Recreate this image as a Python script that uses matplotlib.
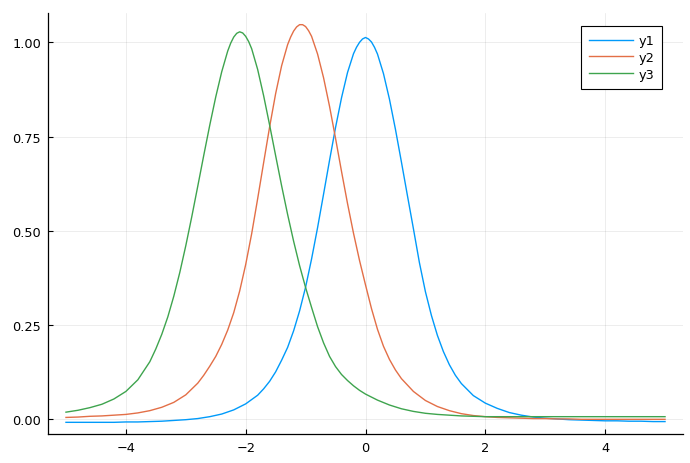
import matplotlib
matplotlib.use("Agg")
import matplotlib.pyplot as plt

# ---------------- data ----------------
x1 = [-5.0, -4.8, -4.6, -4.4, -4.2, -4.0, -3.8, -3.6, -3.4, -3.2, -3.0, -2.8, -2.6, -2.4, -2.2, -2.0, -1.8,
      -1.7, -1.6, -1.5, -1.4, -1.3, -1.2, -1.1, -1.0, -0.9, -0.8, -0.7, -0.6, -0.5, -0.4, -0.3, -0.2,
      -0.15, -0.1, -0.05, 0.0, 0.05, 0.1, 0.15,
      0.2, 0.3, 0.4, 0.5, 0.6, 0.7, 0.8, 0.9, 1.0, 1.1, 1.2, 1.3, 1.4, 1.5, 1.6,
      1.8, 2.0, 2.2, 2.4, 2.6, 2.8, 3.0, 3.2, 3.4, 3.6, 3.8, 4.0, 4.2, 4.4, 4.6, 4.8, 5.0]
y1 = [-0.009, -0.009, -0.009, -0.009, -0.009, -0.008, -0.008, -0.007, -0.006, -0.004, -0.002, 0.001, 0.006, 0.013, 0.024, 0.040, 0.063,
      0.080, 0.100, 0.125, 0.156, 0.190, 0.234, 0.287, 0.350, 0.425, 0.508, 0.597, 0.687, 0.774, 0.853, 0.920, 0.970,
      0.987, 1.000, 1.009, 1.013, 1.009, 1.001, 0.987,
      0.969, 0.917, 0.849, 0.769, 0.682, 0.593, 0.505, 0.415, 0.338, 0.275, 0.222, 0.179, 0.144, 0.116, 0.094,
      0.062, 0.042, 0.028, 0.017, 0.010, 0.005, 0.002, 0.000, -0.002, -0.003, -0.004, -0.005, -0.005, -0.006, -0.006, -0.007, -0.007]

x2 = [-5.0, -4.8, -4.6, -4.4, -4.2, -4.0, -3.8, -3.6, -3.4, -3.2, -3.0, -2.8,
      -2.7, -2.6, -2.5, -2.4, -2.3, -2.2, -2.1, -2.0, -1.9, -1.8, -1.7, -1.6, -1.5, -1.4, -1.3,
      -1.25, -1.2, -1.15, -1.1, -1.05, -1.0, -0.95,
      -0.9, -0.8, -0.7, -0.6, -0.5, -0.4, -0.3, -0.2, -0.1, 0.0, 0.1, 0.2, 0.3, 0.4, 0.5, 0.6,
      0.8, 1.0, 1.2, 1.4, 1.6, 1.8, 2.0, 2.2, 2.4, 2.6, 2.8, 3.0, 3.2, 3.4, 3.6, 3.8, 4.0, 4.2, 4.4, 4.6, 4.8, 5.0]
y2 = [0.004, 0.005, 0.007, 0.008, 0.010, 0.012, 0.016, 0.022, 0.031, 0.044, 0.064, 0.095,
      0.116, 0.140, 0.166, 0.198, 0.236, 0.282, 0.340, 0.410, 0.492, 0.585, 0.681, 0.776, 0.864, 0.938, 0.994,
      1.014, 1.030, 1.041, 1.047, 1.047, 1.042, 1.031,
      1.016, 0.969, 0.906, 0.830, 0.745, 0.657, 0.572, 0.493, 0.421, 0.356, 0.293, 0.238, 0.193, 0.158, 0.130, 0.107,
      0.073, 0.049, 0.033, 0.022, 0.014, 0.009, 0.006, 0.004, 0.003, 0.002, 0.001, 0.001, 0.000, 0.000, -0.001, -0.001, -0.001, -0.001, -0.001, -0.001, -0.001, -0.001]

x3 = [-5.0, -4.8, -4.6, -4.4, -4.2, -4.0, -3.8, -3.6,
      -3.5, -3.4, -3.3, -3.2, -3.1, -3.0, -2.9, -2.8, -2.7, -2.6, -2.5, -2.4, -2.3,
      -2.25, -2.2, -2.15, -2.1, -2.05, -2.0, -1.95,
      -1.9, -1.8, -1.7, -1.6, -1.5, -1.4, -1.3, -1.2, -1.1, -1.0, -0.9, -0.8, -0.7, -0.6, -0.5, -0.4,
      -0.3, -0.2, -0.1, 0.0,
      0.2, 0.4, 0.6, 0.8, 1.0, 1.2, 1.4, 1.6, 1.8, 2.0, 2.4, 2.8, 3.2, 3.6, 4.0, 4.4, 4.8, 5.0]
y3 = [0.018, 0.023, 0.030, 0.039, 0.053, 0.073, 0.104, 0.152,
      0.186, 0.225, 0.271, 0.326, 0.389, 0.460, 0.537, 0.618, 0.700, 0.780, 0.855, 0.922, 0.977,
      0.998, 1.014, 1.024, 1.028, 1.025, 1.016, 1.002,
      0.983, 0.928, 0.858, 0.780, 0.699, 0.619, 0.543, 0.472, 0.407, 0.349, 0.296, 0.245, 0.202, 0.166, 0.139, 0.118,
      0.102, 0.088, 0.076, 0.066,
      0.050, 0.037, 0.027, 0.020, 0.015, 0.012, 0.010, 0.008, 0.007, 0.006, 0.006, 0.006, 0.006, 0.006, 0.006, 0.006, 0.006, 0.006]

labels = ["y1", "y2", "y3"]
colors = ["#009AFA", "#E36F47", "#3EA44E"]
xticks = [-4, -2, 0, 2, 4]
yticks = [0.00, 0.25, 0.50, 0.75, 1.00]

# ---------------- figure ----------------
plt.rcParams["font.family"] = ["DejaVu Sans"]
fig = plt.figure(figsize=(6.9, 4.64), dpi=100)
ax = fig.add_axes([48 / 690, 1 - 435 / 464, (683 - 48) / 690, (435 - 14) / 464])

for xs, ys, lab, col in zip([x1, x2, x3], [y1, y2, y3], labels, colors):
    ax.plot(xs, ys, color=col, lw=1.0, label=lab)

ax.set_xlim(-5.3, 5.3)
ax.set_ylim(-0.040, 1.078)
ax.set_xticks(xticks)
ax.set_yticks(yticks)
ax.set_yticklabels([f"{v:.2f}" for v in yticks])

ax.grid(True, color="black", alpha=0.1, lw=0.5)
ax.set_axisbelow(True)
for s in ["top", "right"]:
    ax.spines[s].set_visible(False)
for s in ["left", "bottom"]:
    ax.spines[s].set_linewidth(0.9)
ax.tick_params(direction="in", length=3.5, width=0.8, labelsize=9.3, pad=5, colors="black")

leg = ax.legend(loc="upper right", bbox_to_anchor=((662 - 48) / 635, (435 - 27.3) / 421),
                borderaxespad=0, fancybox=False, framealpha=1, edgecolor="black",
                fontsize=9.3, handlelength=3.4, handletextpad=0.45, labelspacing=0.3,
                borderpad=0.6)
leg.get_frame().set_linewidth(0.8)

fig.savefig("out.png", dpi=100)
